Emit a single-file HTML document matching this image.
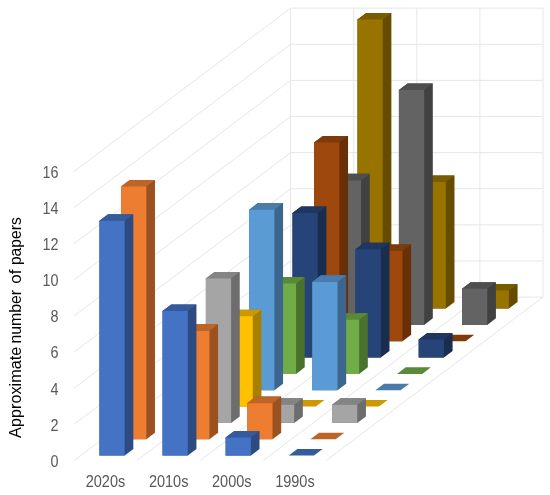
<!DOCTYPE html>
<html><head><meta charset="utf-8"><title>Chart</title>
<style>html,body{margin:0;padding:0;background:#fff}svg{display:block}</style></head>
<body>
<svg width="550" height="495" viewBox="0 0 550 495">
<rect width="550" height="495" fill="#FFFFFF"/>
<g stroke="#E6E6EA" stroke-width="1" fill="none"><line x1="74.00" y1="460.50" x2="290.60" y2="297.10"/><line x1="290.60" y1="297.10" x2="543.00" y2="297.10"/><line x1="74.00" y1="424.38" x2="290.60" y2="260.98"/><line x1="290.60" y1="260.98" x2="543.00" y2="260.98"/><line x1="74.00" y1="388.26" x2="290.60" y2="224.86"/><line x1="290.60" y1="224.86" x2="543.00" y2="224.86"/><line x1="74.00" y1="352.14" x2="290.60" y2="188.74"/><line x1="290.60" y1="188.74" x2="543.00" y2="188.74"/><line x1="74.00" y1="316.02" x2="290.60" y2="152.62"/><line x1="290.60" y1="152.62" x2="543.00" y2="152.62"/><line x1="74.00" y1="279.90" x2="290.60" y2="116.50"/><line x1="290.60" y1="116.50" x2="543.00" y2="116.50"/><line x1="74.00" y1="243.78" x2="290.60" y2="80.38"/><line x1="290.60" y1="80.38" x2="543.00" y2="80.38"/><line x1="74.00" y1="207.66" x2="290.60" y2="44.26"/><line x1="290.60" y1="44.26" x2="543.00" y2="44.26"/><line x1="74.00" y1="171.54" x2="290.60" y2="8.14"/><line x1="290.60" y1="8.14" x2="543.00" y2="8.14"/><line x1="290.60" y1="297.10" x2="290.60" y2="8.14"/><line x1="353.70" y1="297.10" x2="353.70" y2="8.14"/><line x1="137.10" y1="460.50" x2="353.70" y2="297.10"/><line x1="416.80" y1="297.10" x2="416.80" y2="8.14"/><line x1="200.20" y1="460.50" x2="416.80" y2="297.10"/><line x1="479.90" y1="297.10" x2="479.90" y2="8.14"/><line x1="263.30" y1="460.50" x2="479.90" y2="297.10"/><line x1="543.00" y1="297.10" x2="543.00" y2="8.14"/><line x1="326.40" y1="460.50" x2="543.00" y2="297.10"/></g>
<polygon points="357.47,308.54 382.71,308.54 391.37,302.00 391.37,13.04 366.13,13.04 357.47,19.58" fill="#654C00"/>
<polygon points="357.47,20.58 382.71,20.58 382.71,19.58 391.37,13.04 366.13,13.04 357.47,19.58" fill="#7A5C00"/>
<polygon points="357.47,308.54 382.71,308.54 382.71,19.58 357.47,19.58" fill="#997300"/>
<polygon points="420.57,308.54 445.81,308.54 454.47,302.00 454.47,175.58 429.23,175.58 420.57,182.12" fill="#654C00"/>
<polygon points="420.57,183.12 445.81,183.12 445.81,182.12 454.47,175.58 429.23,175.58 420.57,182.12" fill="#7A5C00"/>
<polygon points="420.57,308.54 445.81,308.54 445.81,182.12 420.57,182.12" fill="#997300"/>
<polygon points="483.67,308.54 508.91,308.54 517.57,302.00 517.57,283.94 492.33,283.94 483.67,290.48" fill="#654C00"/>
<polygon points="483.67,291.48 508.91,291.48 508.91,290.48 517.57,283.94 492.33,283.94 483.67,290.48" fill="#7A5C00"/>
<polygon points="483.67,308.54 508.91,308.54 508.91,290.48 483.67,290.48" fill="#997300"/>
<polygon points="335.81,324.88 361.05,324.88 369.71,318.34 369.71,173.86 344.47,173.86 335.81,180.40" fill="#414141"/>
<polygon points="335.81,181.40 361.05,181.40 361.05,180.40 369.71,173.86 344.47,173.86 335.81,180.40" fill="#4F4F4F"/>
<polygon points="335.81,324.88 361.05,324.88 361.05,180.40 335.81,180.40" fill="#636363"/>
<polygon points="398.91,324.88 424.15,324.88 432.81,318.34 432.81,83.56 407.57,83.56 398.91,90.10" fill="#414141"/>
<polygon points="398.91,91.10 424.15,91.10 424.15,90.10 432.81,83.56 407.57,83.56 398.91,90.10" fill="#4F4F4F"/>
<polygon points="398.91,324.88 424.15,324.88 424.15,90.10 398.91,90.10" fill="#636363"/>
<polygon points="462.01,324.88 487.25,324.88 495.91,318.34 495.91,282.22 470.67,282.22 462.01,288.76" fill="#414141"/>
<polygon points="462.01,289.76 487.25,289.76 487.25,288.76 495.91,282.22 470.67,282.22 462.01,288.76" fill="#4F4F4F"/>
<polygon points="462.01,324.88 487.25,324.88 487.25,288.76 462.01,288.76" fill="#636363"/>
<polygon points="314.15,341.22 339.39,341.22 348.05,334.68 348.05,136.02 322.81,136.02 314.15,142.56" fill="#683009"/>
<polygon points="314.15,143.56 339.39,143.56 339.39,142.56 348.05,136.02 322.81,136.02 314.15,142.56" fill="#7E3A0B"/>
<polygon points="314.15,341.22 339.39,341.22 339.39,142.56 314.15,142.56" fill="#9E480E"/>
<polygon points="377.25,341.22 402.49,341.22 411.15,334.68 411.15,244.38 385.91,244.38 377.25,250.92" fill="#683009"/>
<polygon points="377.25,251.92 402.49,251.92 402.49,250.92 411.15,244.38 385.91,244.38 377.25,250.92" fill="#7E3A0B"/>
<polygon points="377.25,341.22 402.49,341.22 402.49,250.92 377.25,250.92" fill="#9E480E"/>
<polygon points="440.35,341.22 465.59,341.22 474.25,334.68 449.01,334.68" fill="#7E3A0B"/>
<polygon points="292.49,357.56 317.73,357.56 326.39,351.02 326.39,206.54 301.15,206.54 292.49,213.08" fill="#192D4F"/>
<polygon points="292.49,214.08 317.73,214.08 317.73,213.08 326.39,206.54 301.15,206.54 292.49,213.08" fill="#1E3660"/>
<polygon points="292.49,357.56 317.73,357.56 317.73,213.08 292.49,213.08" fill="#264478"/>
<polygon points="355.59,357.56 380.83,357.56 389.49,351.02 389.49,242.66 364.25,242.66 355.59,249.20" fill="#192D4F"/>
<polygon points="355.59,250.20 380.83,250.20 380.83,249.20 389.49,242.66 364.25,242.66 355.59,249.20" fill="#1E3660"/>
<polygon points="355.59,357.56 380.83,357.56 380.83,249.20 355.59,249.20" fill="#264478"/>
<polygon points="418.69,357.56 443.93,357.56 452.59,351.02 452.59,332.96 427.35,332.96 418.69,339.50" fill="#192D4F"/>
<polygon points="418.69,340.50 443.93,340.50 443.93,339.50 452.59,332.96 427.35,332.96 418.69,339.50" fill="#1E3660"/>
<polygon points="418.69,357.56 443.93,357.56 443.93,339.50 418.69,339.50" fill="#264478"/>
<polygon points="270.83,373.90 296.07,373.90 304.73,367.36 304.73,277.06 279.49,277.06 270.83,283.60" fill="#4A722F"/>
<polygon points="270.83,284.60 296.07,284.60 296.07,283.60 304.73,277.06 279.49,277.06 270.83,283.60" fill="#5A8A39"/>
<polygon points="270.83,373.90 296.07,373.90 296.07,283.60 270.83,283.60" fill="#70AD47"/>
<polygon points="333.93,373.90 359.17,373.90 367.83,367.36 367.83,313.18 342.59,313.18 333.93,319.72" fill="#4A722F"/>
<polygon points="333.93,320.72 359.17,320.72 359.17,319.72 367.83,313.18 342.59,313.18 333.93,319.72" fill="#5A8A39"/>
<polygon points="333.93,373.90 359.17,373.90 359.17,319.72 333.93,319.72" fill="#70AD47"/>
<polygon points="397.03,373.90 422.27,373.90 430.93,367.36 405.69,367.36" fill="#5A8A39"/>
<polygon points="249.17,390.24 274.41,390.24 283.07,383.70 283.07,203.10 257.83,203.10 249.17,209.64" fill="#3C668D"/>
<polygon points="249.17,210.64 274.41,210.64 274.41,209.64 283.07,203.10 257.83,203.10 249.17,209.64" fill="#497CAA"/>
<polygon points="249.17,390.24 274.41,390.24 274.41,209.64 249.17,209.64" fill="#5B9BD5"/>
<polygon points="312.27,390.24 337.51,390.24 346.17,383.70 346.17,275.34 320.93,275.34 312.27,281.88" fill="#3C668D"/>
<polygon points="312.27,282.88 337.51,282.88 337.51,281.88 346.17,275.34 320.93,275.34 312.27,281.88" fill="#497CAA"/>
<polygon points="312.27,390.24 337.51,390.24 337.51,281.88 312.27,281.88" fill="#5B9BD5"/>
<polygon points="375.37,390.24 400.61,390.24 409.27,383.70 384.03,383.70" fill="#497CAA"/>
<polygon points="227.51,406.58 252.75,406.58 261.41,400.04 261.41,309.74 236.17,309.74 227.51,316.28" fill="#A87F00"/>
<polygon points="227.51,317.28 252.75,317.28 252.75,316.28 261.41,309.74 236.17,309.74 227.51,316.28" fill="#CC9A00"/>
<polygon points="227.51,406.58 252.75,406.58 252.75,316.28 227.51,316.28" fill="#FFC000"/>
<polygon points="290.61,406.58 315.85,406.58 324.51,400.04 299.27,400.04" fill="#CC9A00"/>
<polygon points="353.71,406.58 378.95,406.58 387.61,400.04 362.37,400.04" fill="#CC9A00"/>
<polygon points="205.85,422.92 231.09,422.92 239.75,416.38 239.75,271.90 214.51,271.90 205.85,278.44" fill="#6D6D6D"/>
<polygon points="205.85,279.44 231.09,279.44 231.09,278.44 239.75,271.90 214.51,271.90 205.85,278.44" fill="#848484"/>
<polygon points="205.85,422.92 231.09,422.92 231.09,278.44 205.85,278.44" fill="#A5A5A5"/>
<polygon points="268.95,422.92 294.19,422.92 302.85,416.38 302.85,398.32 277.61,398.32 268.95,404.86" fill="#6D6D6D"/>
<polygon points="268.95,405.86 294.19,405.86 294.19,404.86 302.85,398.32 277.61,398.32 268.95,404.86" fill="#848484"/>
<polygon points="268.95,422.92 294.19,422.92 294.19,404.86 268.95,404.86" fill="#A5A5A5"/>
<polygon points="332.05,422.92 357.29,422.92 365.95,416.38 365.95,398.32 340.71,398.32 332.05,404.86" fill="#6D6D6D"/>
<polygon points="332.05,405.86 357.29,405.86 357.29,404.86 365.95,398.32 340.71,398.32 332.05,404.86" fill="#848484"/>
<polygon points="332.05,422.92 357.29,422.92 357.29,404.86 332.05,404.86" fill="#A5A5A5"/>
<polygon points="121.09,439.26 146.33,439.26 154.99,432.72 154.99,179.88 129.75,179.88 121.09,186.42" fill="#9C5220"/>
<polygon points="121.09,187.42 146.33,187.42 146.33,186.42 154.99,179.88 129.75,179.88 121.09,186.42" fill="#BE6427"/>
<polygon points="121.09,439.26 146.33,439.26 146.33,186.42 121.09,186.42" fill="#ED7D31"/>
<polygon points="184.19,439.26 209.43,439.26 218.09,432.72 218.09,324.36 192.85,324.36 184.19,330.90" fill="#9C5220"/>
<polygon points="184.19,331.90 209.43,331.90 209.43,330.90 218.09,324.36 192.85,324.36 184.19,330.90" fill="#BE6427"/>
<polygon points="184.19,439.26 209.43,439.26 209.43,330.90 184.19,330.90" fill="#ED7D31"/>
<polygon points="247.29,439.26 272.53,439.26 281.19,432.72 281.19,396.60 255.95,396.60 247.29,403.14" fill="#9C5220"/>
<polygon points="247.29,404.14 272.53,404.14 272.53,403.14 281.19,396.60 255.95,396.60 247.29,403.14" fill="#BE6427"/>
<polygon points="247.29,439.26 272.53,439.26 272.53,403.14 247.29,403.14" fill="#ED7D31"/>
<polygon points="310.39,439.26 335.63,439.26 344.29,432.72 319.05,432.72" fill="#BE6427"/>
<polygon points="99.43,455.60 124.67,455.60 133.33,449.06 133.33,214.28 108.09,214.28 99.43,220.82" fill="#2D4B81"/>
<polygon points="99.43,221.82 124.67,221.82 124.67,220.82 133.33,214.28 108.09,214.28 99.43,220.82" fill="#365B9D"/>
<polygon points="99.43,455.60 124.67,455.60 124.67,220.82 99.43,220.82" fill="#4472C4"/>
<polygon points="162.53,455.60 187.77,455.60 196.43,449.06 196.43,304.58 171.19,304.58 162.53,311.12" fill="#2D4B81"/>
<polygon points="162.53,312.12 187.77,312.12 187.77,311.12 196.43,304.58 171.19,304.58 162.53,311.12" fill="#365B9D"/>
<polygon points="162.53,455.60 187.77,455.60 187.77,311.12 162.53,311.12" fill="#4472C4"/>
<polygon points="225.63,455.60 250.87,455.60 259.53,449.06 259.53,431.00 234.29,431.00 225.63,437.54" fill="#2D4B81"/>
<polygon points="225.63,438.54 250.87,438.54 250.87,437.54 259.53,431.00 234.29,431.00 225.63,437.54" fill="#365B9D"/>
<polygon points="225.63,455.60 250.87,455.60 250.87,437.54 225.63,437.54" fill="#4472C4"/>
<polygon points="288.73,455.60 313.97,455.60 322.63,449.06 297.39,449.06" fill="#365B9D"/>
<g font-family="'Liberation Sans', Arial, sans-serif" font-size="16.2" fill="#595959">
<text x="58.4" y="466.8" text-anchor="end" textLength="8.0" lengthAdjust="spacingAndGlyphs">0</text>
<text x="58.4" y="430.7" text-anchor="end" textLength="8.0" lengthAdjust="spacingAndGlyphs">2</text>
<text x="58.4" y="394.6" text-anchor="end" textLength="8.0" lengthAdjust="spacingAndGlyphs">4</text>
<text x="58.4" y="358.4" text-anchor="end" textLength="8.0" lengthAdjust="spacingAndGlyphs">6</text>
<text x="58.4" y="322.3" text-anchor="end" textLength="8.0" lengthAdjust="spacingAndGlyphs">8</text>
<text x="58.4" y="286.2" text-anchor="end" textLength="16.0" lengthAdjust="spacingAndGlyphs">10</text>
<text x="58.4" y="250.1" text-anchor="end" textLength="16.0" lengthAdjust="spacingAndGlyphs">12</text>
<text x="58.4" y="214.0" text-anchor="end" textLength="16.0" lengthAdjust="spacingAndGlyphs">14</text>
<text x="58.4" y="177.8" text-anchor="end" textLength="16.0" lengthAdjust="spacingAndGlyphs">16</text>
<text x="105.5" y="487.0" text-anchor="middle" textLength="39.5" lengthAdjust="spacingAndGlyphs">2020s</text>
<text x="168.7" y="487.0" text-anchor="middle" textLength="39.5" lengthAdjust="spacingAndGlyphs">2010s</text>
<text x="231.8" y="487.0" text-anchor="middle" textLength="39.5" lengthAdjust="spacingAndGlyphs">2000s</text>
<text x="294.9" y="487.0" text-anchor="middle" textLength="39.5" lengthAdjust="spacingAndGlyphs">1990s</text>
</g>
<g font-family="'Liberation Sans', Arial, sans-serif" font-size="15.6" fill="#000000">
<text transform="translate(21,437.9) rotate(-90)" textLength="91.2" lengthAdjust="spacingAndGlyphs">Approximate</text>
<text transform="translate(21,343.6) rotate(-90)" textLength="53.6" lengthAdjust="spacingAndGlyphs">number</text>
<text transform="translate(21,283.7) rotate(-90)" textLength="14.2" lengthAdjust="spacingAndGlyphs">of</text>
<text transform="translate(21,265.1) rotate(-90)" textLength="47.8" lengthAdjust="spacingAndGlyphs">papers</text>
</g>
</svg>
</body></html>
